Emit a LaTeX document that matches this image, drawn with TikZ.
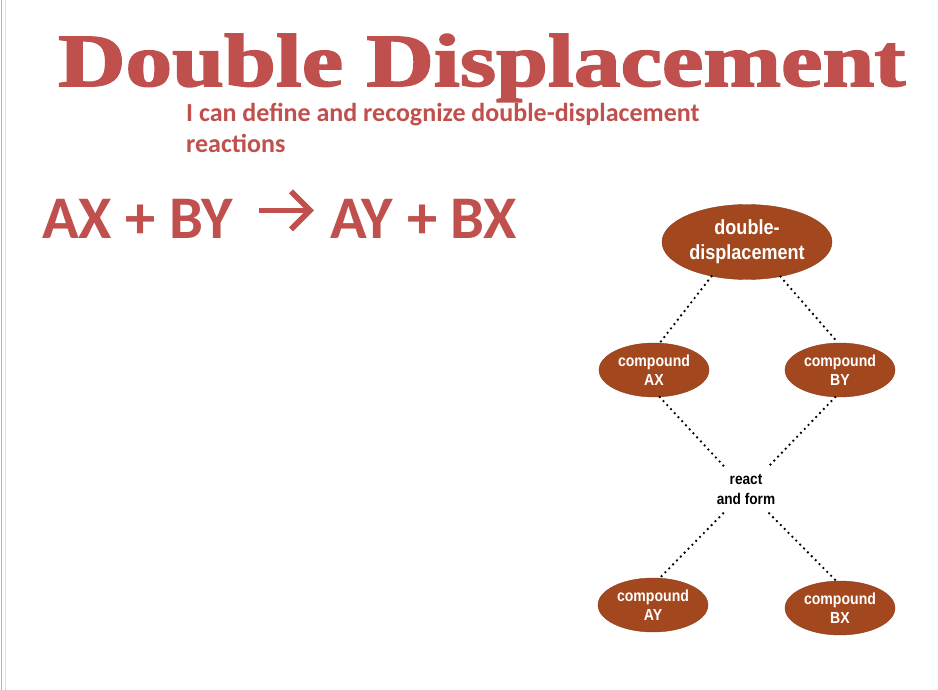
\documentclass[tikz,border=0pt]{standalone}
\usepackage{fontspec}
\usepackage{graphicx}
\usetikzlibrary{arrows.meta,shapes.geometric,positioning}
\newfontfamily\titlefont{Liberation Serif}[BoldFeatures={FakeBold=2}]
\newfontfamily\calibrifont{Carlito}
\newfontfamily\arialfont{Liberation Sans}[FakeStretch=0.88]
\definecolor{titlered}{HTML}{C0504D}
\definecolor{rust}{HTML}{A3471F}

\begin{document}
\begin{tikzpicture}[x=1pt,y=-1pt]
\tikzstyle{bubble}=[ellipse, fill=rust, draw=rust!85!black, text=white, inner sep=0pt, align=center, minimum width=110pt, minimum height=54pt, font=\arialfont\bfseries\fontsize{16}{19.5}\selectfont]
\tikzstyle{link}=[line width=2.6pt, line cap=round, dash pattern=on 0pt off 5.5pt]
\tikzstyle{eqtext}=[anchor=base west, inner sep=0pt, text=titlered, font=\calibrifont\bfseries\fontsize{60.5}{70}\selectfont]
\tikzstyle{eqarrow}=[draw=titlered, line width=5.5pt, line join=miter]
\useasboundingbox (0,0) rectangle (938,690);
\fill[white] (0,0) rectangle (938,690);
\draw[gray!60] (1.5,0) -- (1.5,690);
\draw[gray!25] (5,0) -- (5,690);
\node[anchor=base west, inner sep=0pt, text=titlered] (title) at (58,86) {\resizebox{847pt}{52pt}{\titlefont\bfseries Double Displacement}};
\node[anchor=base west, inner sep=0pt, align=left, text=titlered, font=\calibrifont\bfseries\fontsize{26}{31}\selectfont] (goal) at (186,153) {I can define and recognize double-displacement\\reactions};
\node[eqtext] (lhs) at (42,238) {AX + BY};
\node[eqtext] (rhs) at (330,238) {AY + BX};
\coordinate (tip) at ([xshift=-20pt,yshift=8pt]rhs.west);
\draw[eqarrow] ([xshift=26pt,yshift=8pt]lhs.east) -- ([xshift=-4pt]tip);
\draw[eqarrow] ([shift={(-19pt,19pt)}]tip) -- (tip) -- ([shift={(-19pt,-19pt)}]tip);
\node[bubble, minimum width=170pt, minimum height=75pt, font=\arialfont\bfseries\fontsize{20.5}{25}\selectfont] (dd) at (747,242) {double-\\displacement};
\node[bubble] (ax) at (654,370) {compound\\AX};
\node[bubble] (by) at (840,370) {compound\\BY};
\node[bubble] (ay) at (653,605) {compound\\AY};
\node[bubble] (bx) at (840,608) {compound\\BX};
\node[align=center, inner sep=8pt, font=\arialfont\bfseries\fontsize{15.5}{20}\selectfont] (rf) at (746,490) {react\\and form};
\draw[link] (dd.224) -- (ax.78);
\draw[link] (dd.314) -- (by.94);
\draw[link] (ax.282) -- (rf);
\draw[link] (by.260) -- (rf);
\draw[link] (rf) -- (ay.76);
\draw[link] (rf) -- (bx.98);
\end{tikzpicture}
\end{document}
